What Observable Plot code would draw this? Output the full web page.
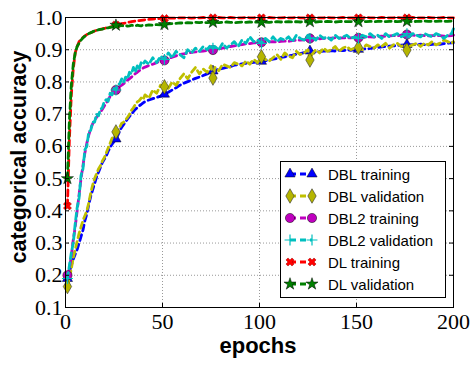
<!DOCTYPE html>
<html><head><meta charset="utf-8">
<script src="https://cdn.jsdelivr.net/npm/d3@7"></script>
<script src="https://cdn.jsdelivr.net/npm/@observablehq/plot@0.6"></script>
<style>html,body{margin:0;padding:0;background:#fff}#chart svg{display:block}</style>
</head><body><div id="chart"></div>
<script>
const epochs = [
 1,2,3,4,5,6,7,8,9,10,
 11,12,13,14,15,16,17,18,19,20,
 21,22,23,24,25,26,27,28,29,30,
 31,32,33,34,35,36,37,38,39,40,
 41,43,45,47,49,51,53,55,57,59,
 61,63,65,67,69,71,73,75,76,
 77,79,81,83,85,87,89,91,93,95,97,99,
 101,103,105,107,109,111,113,115,117,119,121,123,125,126,
 127,129,131,133,135,137,139,141,143,145,147,149,
 151,153,155,157,159,161,163,165,167,169,171,173,175,176,
 177,179,181,183,185,187,189,191,193,195,197,199,200
];
const dblTraining = [
 0.19,0.21,0.23,0.25,0.265,0.28,0.30,0.32,0.34,0.37,
 0.39,0.42,0.445,0.465,0.485,0.505,0.52,0.535,0.55,0.56,
 0.57,0.585,0.597,0.607,0.615,0.623,0.635,0.648,0.66,0.668,
 0.677,0.685,0.693,0.70,0.708,0.715,0.72,0.726,0.73,0.735,
 0.739,0.744,0.748,0.752,0.756,0.762,0.768,0.775,0.782,0.79,
 0.796,0.801,0.806,0.811,0.815,0.82,0.825,0.83,0.834,
 0.836,0.839,0.842,0.845,0.848,0.852,0.854,0.856,0.858,0.859,0.861,0.862,
 0.864,0.866,0.868,0.871,0.873,0.876,0.878,0.881,0.883,0.886,0.888,0.891,0.894,0.896,
 0.895,0.893,0.894,0.896,0.895,0.897,0.896,0.898,0.897,0.899,0.898,0.9,
 0.901,0.902,0.903,0.904,0.906,0.907,0.909,0.91,0.911,0.912,0.913,0.914,0.915,0.916,
 0.915,0.916,0.915,0.917,0.916,0.915,0.917,0.918,0.917,0.919,0.92,0.921,0.922
];
const dblValidation = [
 0.165,0.19,0.22,0.255,0.28,0.305,0.33,0.35,0.37,0.385,
 0.40,0.425,0.455,0.48,0.50,0.515,0.53,0.54,0.555,0.565,
 0.58,0.595,0.61,0.625,0.635,0.645,0.65,0.66,0.672,0.675,
 0.683,0.69,0.70,0.712,0.72,0.73,0.738,0.742,0.75,0.745,
 0.76,0.75,0.775,0.765,0.79,0.785,0.78,0.80,0.79,0.81,
 0.825,0.81,0.83,0.845,0.825,0.84,0.83,0.85,0.812,
 0.845,0.835,0.855,0.85,0.845,0.86,0.855,0.85,0.865,0.855,0.87,0.86,
 0.878,0.87,0.865,0.875,0.885,0.87,0.89,0.88,0.875,0.895,0.885,0.89,0.9,0.868,
 0.885,0.9,0.89,0.905,0.895,0.9,0.91,0.895,0.905,0.91,0.9,0.905,
 0.907,0.9,0.915,0.91,0.905,0.915,0.91,0.92,0.905,0.915,0.92,0.91,0.915,0.899,
 0.91,0.915,0.92,0.91,0.92,0.915,0.925,0.915,0.92,0.93,0.925,0.92,0.925
];
const dbl2Training = [
 0.20,0.22,0.26,0.31,0.35,0.40,0.45,0.50,0.54,0.58,
 0.61,0.635,0.655,0.67,0.68,0.69,0.70,0.706,0.715,0.725,
 0.735,0.745,0.755,0.763,0.77,0.775,0.78,0.786,0.79,0.795,
 0.80,0.806,0.81,0.815,0.82,0.826,0.83,0.835,0.84,0.843,
 0.846,0.851,0.855,0.86,0.864,0.867,0.872,0.877,0.881,0.885,
 0.887,0.889,0.892,0.893,0.895,0.896,0.898,0.899,0.899,
 0.901,0.903,0.905,0.908,0.91,0.912,0.914,0.916,0.918,0.919,0.921,0.922,
 0.923,0.922,0.924,0.925,0.924,0.926,0.927,0.926,0.928,0.929,0.93,0.931,0.933,0.935,
 0.934,0.935,0.934,0.936,0.935,0.936,0.937,0.936,0.937,0.936,0.937,0.938,
 0.937,0.938,0.939,0.94,0.939,0.941,0.942,0.941,0.943,0.944,0.943,0.945,0.946,0.947,
 0.946,0.945,0.944,0.945,0.944,0.943,0.944,0.943,0.944,0.942,0.943,0.944,0.945
];
const dbl2Validation = [
 0.19,0.23,0.27,0.30,0.36,0.41,0.44,0.51,0.53,0.59,
 0.60,0.645,0.65,0.675,0.675,0.70,0.695,0.715,0.72,0.74,
 0.745,0.74,0.765,0.76,0.78,0.775,0.79,0.795,0.81,0.80,
 0.815,0.81,0.83,0.825,0.845,0.83,0.85,0.84,0.86,0.855,
 0.865,0.855,0.875,0.86,0.88,0.87,0.89,0.875,0.895,0.885,
 0.875,0.9,0.89,0.905,0.895,0.91,0.9,0.915,0.905,
 0.91,0.9,0.92,0.905,0.915,0.925,0.91,0.93,0.92,0.94,0.925,0.93,
 0.92,0.935,0.925,0.94,0.925,0.935,0.93,0.94,0.925,0.945,0.935,0.93,0.945,0.935,
 0.94,0.93,0.945,0.935,0.94,0.93,0.945,0.935,0.94,0.945,0.935,0.94,
 0.935,0.945,0.94,0.95,0.94,0.945,0.935,0.95,0.94,0.945,0.95,0.94,0.945,0.95,
 0.94,0.95,0.945,0.94,0.95,0.945,0.94,0.95,0.945,0.935,0.945,0.95,0.965
];
const dlTraining = [
 0.415,0.62,0.76,0.84,0.89,0.91,0.925,0.932,0.938,0.943,
 0.947,0.95,0.953,0.955,0.958,0.96,0.962,0.963,0.965,0.966,
 0.968,0.969,0.97,0.972,0.974,0.977,0.978,0.979,0.981,0.982,
 0.983,0.985,0.986,0.987,0.988,0.989,0.99,0.99,0.991,0.992,
 0.993,0.994,0.995,0.996,0.997,0.997,0.998,0.998,0.998,0.999,
 0.999,0.999,0.998,0.999,0.999,1.0,0.999,0.999,0.999,
 0.999,1.0,0.999,0.999,1.0,0.999,0.999,0.999,1.0,0.999,0.999,1.0,
 0.999,0.999,1.0,0.999,0.999,0.999,1.0,0.999,0.999,1.0,0.999,0.999,0.999,0.999,
 1.0,0.999,0.999,0.999,1.0,0.999,0.999,0.999,1.0,0.999,0.999,0.999,
 0.999,0.999,1.0,0.999,0.999,0.999,1.0,0.999,0.999,0.999,1.0,0.999,0.999,0.999,
 0.999,1.0,0.999,0.999,0.999,1.0,0.999,0.999,0.999,1.0,0.999,0.999,0.999
];
const dlValidation = [
 0.50,0.68,0.79,0.855,0.89,0.91,0.92,0.93,0.937,0.942,
 0.946,0.95,0.953,0.956,0.958,0.96,0.962,0.963,0.964,0.966,
 0.967,0.968,0.969,0.971,0.972,0.976,0.975,0.974,0.975,0.974,
 0.975,0.973,0.974,0.976,0.975,0.974,0.976,0.975,0.974,0.976,
 0.975,0.977,0.976,0.978,0.977,0.978,0.98,0.981,0.982,0.983,
 0.983,0.984,0.983,0.985,0.984,0.985,0.984,0.985,0.985,
 0.985,0.984,0.985,0.986,0.985,0.984,0.985,0.986,0.985,0.986,0.985,0.986,
 0.985,0.986,0.985,0.986,0.987,0.986,0.986,0.987,0.986,0.987,0.986,0.987,0.986,0.987,
 0.987,0.986,0.987,0.987,0.988,0.987,0.986,0.987,0.988,0.987,0.987,0.988,
 0.987,0.988,0.987,0.988,0.987,0.988,0.988,0.987,0.988,0.988,0.987,0.988,0.988,0.988,
 0.988,0.987,0.988,0.988,0.989,0.988,0.988,0.988,0.989,0.988,0.988,0.989,0.988
];
const markerEpochs = [1,26,51,76,101,126,151,176];
const xTicks = [0,50,100,150,200];
const yTicks = [0.1,0.2,0.3,0.4,0.5,0.6,0.7,0.8,0.9,1.0];

const series = [
 {name:"DBL training",    values:dblTraining,    color:"#0000ff", symbol:"triangle", r:3.8, fill:"#0000ff", stroke:"#000", sw:0.5},
 {name:"DBL validation",  values:dblValidation,  color:"#bfbf00", symbol:"diamond",  r:4.4, fill:"#b5b500", stroke:"#333", sw:0.6},
 {name:"DBL2 training",   values:dbl2Training,   color:"#bf00bf", symbol:"circle",   r:4.6, fill:"#bf00bf", stroke:"#000", sw:0.5},
 {name:"DBL2 validation", values:dbl2Validation, color:"#00bfbf", symbol:"plus",     r:3.6, fill:"none",    stroke:"#00bfbf", sw:1.2},
 {name:"DL training",     values:dlTraining,     color:"#ff0000", symbol:"cross",    r:3.6, fill:"#ff0000", stroke:"#a00", sw:0.5, rotate:45},
 {name:"DL validation",   values:dlValidation,   color:"#008000", symbol:"star",     r:3.8, fill:"#008000", stroke:"#000", sw:0.5}
];

const W = 474, H = 365, mL = 65, mR = 21, mT = 17, mB = 58;
const plotH = H - mT - mB, plotW = W - mL - mR;
const serif = "'Liberation Serif', 'DejaVu Serif', serif";
const sans = "'Liberation Sans', Arial, sans-serif";

const marks = [
  Plot.gridX(xTicks, {stroke:"#999", strokeOpacity:1, strokeDasharray:"1,2"}),
  Plot.gridY(yTicks, {stroke:"#999", strokeOpacity:1, strokeDasharray:"1,2"}),
];
for (const s of series) {
  const rows = epochs.map((e,i)=>({epoch:e, acc:s.values[i]}));
  marks.push(Plot.line(rows, {x:"epoch", y:"acc", stroke:s.color, strokeWidth:2.8, strokeDasharray:"6,4"}));
  marks.push(Plot.dot(rows.filter(d=>markerEpochs.includes(d.epoch)), {
    x:"epoch", y:"acc", symbol:()=>s.symbol, r:s.r, fill:s.fill, stroke:s.stroke, strokeWidth:s.sw, rotate:s.rotate||0
  }));
}
marks.push(
  Plot.tickX(xTicks, {x:d=>d, insetTop:plotH-4, stroke:"black"}),
  Plot.tickX(xTicks, {x:d=>d, insetBottom:plotH-4, stroke:"black"}),
  Plot.tickY(yTicks, {y:d=>d, insetRight:plotW-4, stroke:"black"}),
  Plot.tickY(yTicks, {y:d=>d, insetLeft:plotW-4, stroke:"black"}),
  Plot.axisX(xTicks, {tickSize:0, tickPadding:6, fontSize:22, fontFamily:serif, label:null, tickFormat:d=>String(d)}),
  Plot.axisY(yTicks, {tickSize:0, tickPadding:3, fontSize:22, fontFamily:serif, label:null, tickFormat:d=>d.toFixed(1)}),
  Plot.frame({stroke:"black", strokeWidth:1})
);

const chart = Plot.plot({
  width:W, height:H, marginLeft:mL, marginRight:mR, marginTop:mT, marginBottom:mB,
  style:{background:"white", color:"black", overflow:"visible"},
  x:{domain:[0,200]},
  y:{domain:[0.1,1.0]},
  symbol:{type:"identity"},
  marks
});
document.getElementById("chart").appendChild(chart);

// axis titles and legend
const svg = d3.select(chart);
svg.append("text").text("epochs")
  .attr("x", 258).attr("y", 353).attr("text-anchor","middle")
  .attr("font-family", sans).attr("font-weight","bold").attr("font-size", 22).attr("fill","black");
svg.append("text").text("categorical accuracy")
  .attr("transform","translate(26,157) rotate(-90)").attr("text-anchor","middle")
  .attr("font-family", sans).attr("font-weight","bold").attr("font-size", 21.5).attr("fill","black");

const symbolTypes = {triangle:d3.symbolTriangle, diamond:d3.symbolDiamond, circle:d3.symbolCircle, plus:d3.symbolPlus, cross:d3.symbolCross, star:d3.symbolStar};
const lg = svg.append("g");
lg.append("rect").attr("x",280.5).attr("y",161.5).attr("width",165).attr("height",136)
  .attr("fill","white").attr("stroke","black").attr("stroke-width",1);
series.forEach((s,i)=>{
  const cy = 174 + i*22;
  lg.append("line").attr("x1",290).attr("x2",312).attr("y1",cy).attr("y2",cy)
    .attr("stroke",s.color).attr("stroke-width",2.8).attr("stroke-dasharray","6,4");
  for (const cx of [290,312]) {
    lg.append("path").attr("d", d3.symbol(symbolTypes[s.symbol], s.r*s.r*Math.PI)())
      .attr("transform", `translate(${cx},${cy}) rotate(${s.rotate||0})`)
      .attr("fill", s.fill).attr("stroke", s.stroke).attr("stroke-width", s.sw);
  }
  lg.append("text").text(s.name).attr("x",328).attr("y",cy+5.5).attr("text-anchor","start")
    .attr("font-family", sans).attr("font-size",15).attr("fill","black");
});
</script>
</body></html>
